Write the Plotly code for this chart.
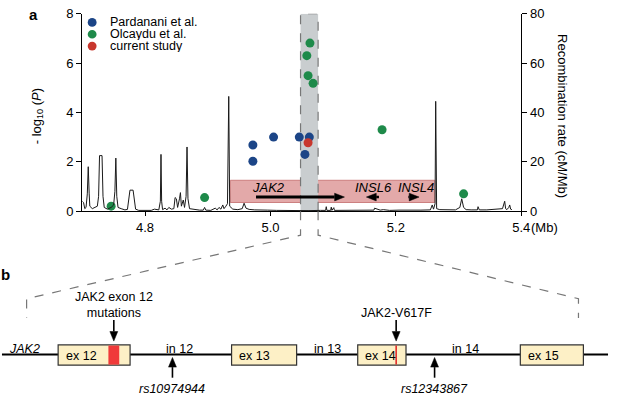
import plotly.graph_objects as go

W, H = 619, 404
FONT = "Liberation Sans, Arial, sans-serif"

# ---------------- data: panel a ----------------
pardanani_pos = [4.972, 4.972, 5.005, 5.046, 5.062, 5.055]
pardanani_logp = [2.68, 2.02, 3.00, 3.00, 3.00, 2.30]

olcaydu_pos = [4.746, 4.895, 5.058, 5.063, 5.060, 5.068, 5.178, 5.308]
olcaydu_logp = [0.20, 0.55, 6.30, 6.81, 5.49, 5.18, 3.30, 0.70]

current_pos = [5.060]
current_logp = [2.77]

recomb_pos = [
    4.700, 4.702, 4.704, 4.706, 4.708, 4.7095, 4.711, 4.712, 4.716, 4.720,
    4.724, 4.726, 4.7275, 4.7315, 4.733, 4.735, 4.740, 4.746, 4.750, 4.752,
    4.7535, 4.755, 4.757, 4.762, 4.768, 4.772, 4.774, 4.776, 4.781, 4.783,
    4.785, 4.790, 4.800, 4.810, 4.815, 4.822, 4.8245, 4.8255, 4.8265, 4.828,
    4.832, 4.835, 4.838, 4.842, 4.846, 4.848, 4.850, 4.852, 4.855, 4.8565,
    4.858, 4.861, 4.863, 4.8655, 4.867, 4.8685, 4.871, 4.875, 4.880, 4.887,
    4.893, 4.895, 4.897, 4.905, 4.912, 4.915, 4.918, 4.921, 4.924, 4.926,
    4.929, 4.9315, 4.9335, 4.935, 4.940, 4.948, 4.955, 4.958, 4.961, 4.966,
    4.975, 4.985, 4.995, 5.010, 5.025, 5.040, 5.060, 5.080, 5.088, 5.089,
    5.090, 5.096, 5.097, 5.098, 5.101, 5.102, 5.120, 5.140, 5.160, 5.165,
    5.166, 5.175, 5.180, 5.190, 5.205, 5.220, 5.240, 5.255, 5.258, 5.260,
    5.2625, 5.2635, 5.265, 5.270, 5.280, 5.295, 5.302, 5.305, 5.308, 5.312,
    5.320, 5.330, 5.331, 5.333, 5.345, 5.355, 5.365, 5.370, 5.3735, 5.375,
    5.377, 5.380, 5.3815, 5.383, 5.385,
]
recomb_rate = [
    4.0, 3.5, 1.0, 1.5, 7.0, 18.0, 7.0, 2.0, 1.0, 1.5,
    2.0, 6.0, 22.5, 22.5, 6.0, 1.5, 0.8, 1.5, 2.5, 8.0,
    21.5, 6.0, 1.5, 1.0, 0.5, 0.7, 4.0, 8.5, 8.5, 4.0,
    0.8, 0.3, 0.2, 0.3, 0.8, 0.5, 4.0, 23.0, 4.0, 0.6,
    1.2, 0.5, 1.5, 0.8, 1.0, 5.5, 5.0, 1.5, 5.0, 7.5,
    2.0, 4.5, 1.5, 6.0, 26.0, 5.0, 1.0, 0.8, 0.5, 0.4,
    0.4, 1.5, 0.4, 0.3, 1.2, 0.5, 1.5, 0.8, 2.5, 1.0,
    2.0, 3.0, 46.5, 2.0, 0.8, 0.6, 1.0, 3.2, 1.2, 0.7,
    0.5, 0.3, 0.4, 0.3, 0.2, 0.3, 0.2, 0.3, 0.3, 1.8,
    0.3, 0.3, 1.6, 0.3, 1.4, 0.3, 0.3, 0.2, 0.3, 0.4,
    1.2, 0.4, 0.6, 0.3, 0.4, 0.3, 0.4, 0.5, 2.5, 0.8,
    3.0, 44.5, 1.0, 0.6, 0.5, 0.5, 1.5, 5.0, 1.5, 0.6,
    0.5, 0.5, 1.8, 0.5, 0.5, 0.6, 0.7, 1.0, 4.0, 1.0,
    0.6, 1.5, 2.5, 0.8, 0.6,
]

genes = ["JAK2", "INSL6", "INSL4"]
gene_start = [4.977, 5.173, 5.220]
gene_end = [5.118, 5.153, 5.237]
gene_label_x = [4.997, 5.165, 5.2315]

ld_block = [4.936, 5.262]          # pink region (Mb)
ld_block_y = [0.35, 1.25]
focus_region = [5.048, 5.076]      # grey zoomed region (Mb)

x_ticks = [4.8, 5.0, 5.2, 5.4]
x_ticktext = ["4.8", "5.0", "5.2", "5.4"]
y_ticks = [0, 2, 4, 6, 8]
y2_ticks = [0, 20, 40, 60, 80]

# ---------------- data: panel b (schematic, pixel units) ----------------
exon_names = ["ex 12", "ex 13", "ex 14", "ex 15"]
exon_x0 = [59, 235, 363, 528]
exon_x1 = [132, 301, 412, 592]
intron_names = ["in 12", "in 13", "in 14"]
intron_x = [182, 332, 472]
snp_names = ["rs10974944", "rs12343867"]
snp_x = [175, 441]
mutation_labels = ["JAK2 exon 12<br>mutations", "JAK2-V617F"]
mutation_x = [115.5, 402]

# ---------------- layout geometry ----------------
L, R, T, B = 83.5, 529.0, 7.0, 212.0
XR = [4.70, 5.40]
YR = [0, 8]


def PX(x):
    return x / W


def PY(y):
    return 1 - y / H


def data_to_px(x):
    return L + (x - XR[0]) / (XR[1] - XR[0]) * (R - L)


BLUE = "#1c4587"
GREEN = "#1e8a4a"
RED = "#c8372d"

fig = go.Figure()
fig.add_trace(go.Scatter(x=recomb_pos, y=recomb_rate, yaxis="y2", mode="lines",
                         line=dict(color="#1a1a1a", width=1), showlegend=False,
                         hoverinfo="skip"))
fig.add_trace(go.Scatter(x=pardanani_pos, y=pardanani_logp, mode="markers",
                         marker=dict(color=BLUE, size=9), showlegend=False))
fig.add_trace(go.Scatter(x=olcaydu_pos, y=olcaydu_logp, mode="markers",
                         marker=dict(color=GREEN, size=9), showlegend=False))
fig.add_trace(go.Scatter(x=current_pos, y=current_logp, mode="markers",
                         marker=dict(color=RED, size=9), showlegend=False))

shapes = []
ann = []


def text(x, y, s, size=12.5, xanchor="center", angle=0, **kw):
    d = dict(xref="paper", yref="paper", x=PX(x), y=PY(y), text=s, showarrow=False,
             xanchor=xanchor, yanchor="middle", textangle=angle,
             font=dict(size=size, color="black", family=FONT))
    d.update(kw)
    ann.append(d)


# pink block
shapes.append(dict(type="rect", xref="x", yref="y", x0=ld_block[0], x1=ld_block[1],
                   y0=ld_block_y[0], y1=ld_block_y[1], fillcolor="#e3a9a9",
                   line=dict(color="#cc7f7f", width=1), layer="below"))
# grey focus box
shapes.append(dict(type="rect", xref="x", yref="y", x0=focus_region[0], x1=focus_region[1],
                   y0=0, y1=8, fillcolor="#c9cdcf",
                   line=dict(color="#777777", width=1.2, dash="dash"), layer="below"))

# gene arrows (data coords)
hl = 10 / 637.5
hw = 4 / 25.625
arrow_y = 0.57
for name, s, e, lx in zip(genes, gene_start, gene_end, gene_label_x):
    d = 1 if e > s else -1
    base = e - d * hl
    shapes.append(dict(type="line", xref="x", yref="y", x0=s, x1=base, y0=arrow_y, y1=arrow_y,
                       line=dict(color="black", width=3 if name == "JAK2" else 2.5)))
    shapes.append(dict(type="path", xref="x", yref="y",
                       path=f"M {base},{arrow_y - hw} L {e},{arrow_y} L {base},{arrow_y + hw} Z",
                       fillcolor="black", line=dict(color="black", width=0.5)))
    ann.append(dict(xref="x", yref="y", x=lx, y=0.94, text=f"<i>{name}</i>", showarrow=False,
                    xanchor="center", yanchor="middle",
                    font=dict(size=13, color="black", family=FONT)))

# connectors from grey box to panel b
gx0 = data_to_px(focus_region[0])
gx1 = data_to_px(focus_region[1])
dash_line = dict(color="#777777", width=1.2, dash="dash")
for pts in ([(gx0, B), (gx0, 237), (27, 303), (27, 323)],
            [(gx1, B), (gx1, 237), (587, 303), (587, 323)]):
    path = "M " + " L ".join(f"{PX(x)},{PY(y)}" for x, y in pts)
    shapes.append(dict(type="path", xref="paper", yref="paper", path=path, line=dash_line))

# panel b gene line
shapes.append(dict(type="line", xref="paper", yref="paper", x0=PX(2), x1=PX(617),
                   y0=PY(361), y1=PY(361), line=dict(color="black", width=2)))
for nm, x0, x1 in zip(exon_names, exon_x0, exon_x1):
    shapes.append(dict(type="rect", xref="paper", yref="paper", x0=PX(x0), x1=PX(x1),
                       y0=PY(372), y1=PY(351), fillcolor="#fdf0c6",
                       line=dict(color="#333333", width=1.2)))
    text(x0 + 5.5, 362, nm, xanchor="left")
# mutation marks
shapes.append(dict(type="rect", xref="paper", yref="paper", x0=PX(110), x1=PX(121),
                   y0=PY(371.4), y1=PY(351.6), fillcolor="#f03a3a", line=dict(width=0)))
shapes.append(dict(type="line", xref="paper", yref="paper", x0=PX(402), x1=PX(402),
                   y0=PY(371.4), y1=PY(351.6), line=dict(color="#e02020", width=1.5)))

for nm, x in zip(intron_names, intron_x):
    text(x, 355, nm)
text(7, 355, "<i>JAK2</i>", xanchor="left")


def vert_arrow(x, y_tail, y_tip):
    d = 1 if y_tip > y_tail else -1
    hb = y_tip - d * 10
    shapes.append(dict(type="line", xref="paper", yref="paper", x0=PX(x), x1=PX(x),
                       y0=PY(y_tail), y1=PY(hb), line=dict(color="black", width=1.6)))
    shapes.append(dict(type="path", xref="paper", yref="paper",
                       path=f"M {PX(x - 4)},{PY(hb)} L {PX(x)},{PY(y_tip)} L {PX(x + 4)},{PY(hb)} Z",
                       fillcolor="black", line=dict(color="black", width=0.5)))


for x in mutation_x:
    vert_arrow(x, 325, 347)
text(mutation_x[0], 309, mutation_labels[0])
text(mutation_x[1], 318, mutation_labels[1])

for nm, x in zip(snp_names, snp_x):
    vert_arrow(x, 385, 364)
    text(x, 397, f"<i>{nm}</i>")

# legend (custom)
leg_names = ["Pardanani et al.", "Olcaydu et al.", "current study"]
leg_cols = [BLUE, GREEN, RED]
for i, (nm, c) in enumerate(zip(leg_names, leg_cols)):
    yc = 16 + 12.3 * i
    shapes.append(dict(type="circle", xref="paper", yref="paper", x0=PX(89), x1=PX(98),
                       y0=PY(yc + 4.5), y1=PY(yc - 4.5), fillcolor=c, line=dict(width=0)))
    text(111, yc, nm, xanchor="left", height=12, borderpad=0)

# panel letters, axis titles, units
text(34, 8, "<b>a</b>", size=15)
text(6, 278, "<b>b</b>", size=15)
text(38, 113, "- log<sub>10</sub> (<i>P</i>)", size=13, angle=-90)
text(570, 113, "Recombination rate (cM/Mb)", size=13, angle=90)
text(537, 229, "(Mb)", size=13, xanchor="left")

axis_common = dict(showline=True, linecolor="black", linewidth=1.2, showgrid=False,
                   zeroline=False, ticks="outside", tickcolor="black", tickwidth=1.2,
                   ticklabeloverflow="allow",
                   tickfont=dict(size=13, color="black", family=FONT))

fig.update_layout(
    width=W, height=H,
    margin=dict(l=0, r=0, t=0, b=0),
    paper_bgcolor="white", plot_bgcolor="white",
    showlegend=False,
    xaxis=dict(domain=[L / W, R / W], range=XR, tickvals=x_ticks, ticktext=x_ticktext,
               ticklen=4, anchor="y", **axis_common),
    yaxis=dict(domain=[PY(B), PY(T)], range=YR, tickvals=y_ticks, ticklen=5, anchor="x",
               **axis_common),
    yaxis2=dict(domain=[PY(B), PY(T)], range=[0, 80], tickvals=y2_ticks, ticklen=5,
                overlaying="y", side="right", anchor="x", **axis_common),
    shapes=shapes,
    annotations=ann,
)

fig.write_html("out.html", config={"displayModeBar": False},
               post_script="document.body.style.margin='0';document.body.style.padding='0';")
